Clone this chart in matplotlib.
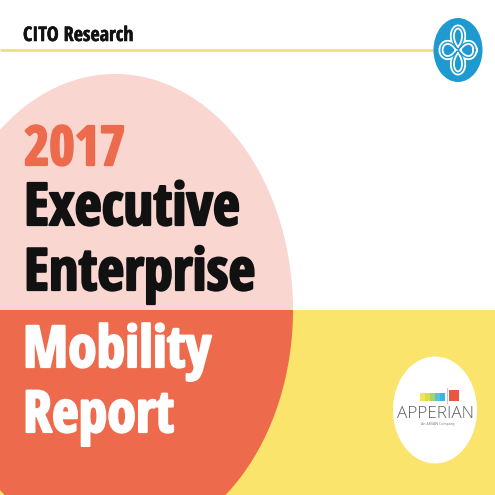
import matplotlib
matplotlib.use('Agg')
import matplotlib.pyplot as plt
import matplotlib.patheffects as pe
from matplotlib import font_manager as fm
from matplotlib.patches import Ellipse, Rectangle
import numpy as np

# cover text
header = 'CITO Research'
title_lines = ['2017', 'Executive', 'Enterprise', 'Mobility', 'Report']
title_colors = ['#EE6A4C', '#111111', '#111111', '#FFFFFF', '#FFFFFF']
# left x, baseline y, target width (px)
title_x = [24, 24, 24, 23, 23]
title_base = [165, 225, 290, 367, 432]
title_width = [101, 216, 231, 188, 151]

sponsor = 'APPERIAN'
sponsor_sub = 'An ARXAN Company'
bar_colors = ['#F3E45B', '#D8DE4E', '#A9D26A', '#5CC0DB', '#3AB3E6']

PINK = '#F9D6D0'
ORANGE = '#EE6A4C'
YELLOW = '#FBE46C'
BLUE = '#1E9AD0'


def condensed_family():
    wanted = ['Open Sans Condensed', 'Roboto Condensed', 'Liberation Sans Narrow',
              'DejaVu Sans Condensed', 'Noto Sans Condensed']
    names = {f.name for f in fm.fontManager.ttflist}
    for w in wanted:
        if w in names:
            return w, 'normal'
    for f in fm.fontManager.ttflist:
        if 'condensed' in str(f.stretch) and f.name in ('DejaVu Sans', 'Open Sans', 'Noto Sans', 'Roboto'):
            return f.name, 'condensed'
    return 'Open Sans', 'normal'


fam, stretch = condensed_family()

fig = plt.figure(figsize=(4.95, 4.95), dpi=100)
ax = fig.add_axes([0, 0, 1, 1])
ax.set_xlim(0, 495)
ax.set_ylim(495, 0)
ax.axis('off')
fig.patch.set_facecolor('white')

# yellow lower band
ax.add_patch(Rectangle((0, 310), 495, 185, color=YELLOW, lw=0, zorder=1))

# big ellipse, pink on top and orange below the band edge
top_clip = Rectangle((-100, -100), 700, 410, transform=ax.transData)
bot_clip = Rectangle((-100, 310), 700, 300, transform=ax.transData)
e1 = Ellipse((115, 310), 356, 472, color=PINK, lw=0, zorder=2)
e2 = Ellipse((115, 310), 356, 472, color=ORANGE, lw=0, zorder=2)
ax.add_patch(e1)
ax.add_patch(e2)
e1.set_clip_path(top_clip)
e2.set_clip_path(bot_clip)

# header line and logo
ax.plot([0, 436], [50, 50], color='#F0DC6C', lw=1.8, zorder=3, solid_capstyle='butt')
ax.add_patch(Ellipse((458, 50), 49, 64, color=BLUE, lw=0, zorder=4))
th = np.linspace(0, 2 * np.pi, 400)
r = np.abs(np.cos(2 * th)) ** 0.6
kx = 458 + 17 * r * np.cos(th)
ky = 50 + 23 * r * np.sin(th)
ax.plot(kx, ky, color='white', lw=3.6, zorder=5)
ax.plot(kx, ky, color=BLUE, lw=1.0, zorder=6)

fig.canvas.draw()
renderer = fig.canvas.get_renderer()


def fitted_text(s, x, y, width, color, base_size, weight='bold', family=fam, st=stretch, stroke=0, **kw):
    t = ax.text(x, y, s, color=color, fontsize=base_size, fontweight=weight,
                family=family, fontstretch=st, ha='left', va='baseline', zorder=8, **kw)
    w = t.get_window_extent(renderer).width
    t.set_fontsize(base_size * width / w)
    if stroke:
        t.set_path_effects([pe.withStroke(linewidth=stroke, foreground=color)])
    return t


fitted_text(header, 23, 41, 110, '#111111', 13, stroke=0.4)
for s, c, x, y, w in zip(title_lines, title_colors, title_x, title_base, title_width):
    fitted_text(s, x, y, w, c, 40, stroke=1.6)

# sponsor badge
ax.add_patch(Ellipse((435, 410), 84, 107, color='white', lw=0, zorder=4))
bx = 420
for c in bar_colors:
    ax.add_patch(Rectangle((bx, 393), 5, 8, color=c, lw=0, zorder=5))
    bx += 5
ax.plot([447, 447], [388, 403], color='#BBBBBB', lw=0.6, zorder=5)
ax.add_patch(Rectangle((449, 390), 10, 11, color='#E8573F', lw=0, zorder=5))
t = ax.text(435.5, 418, sponsor, color='#5F6062', fontsize=8, family='Open Sans',
            fontweight='light', ha='center', va='baseline', zorder=6)
w = t.get_window_extent(renderer).width
t.set_fontsize(8 * 77 / w)
ax.text(438, 425, sponsor_sub, color='#7A7A7A', fontsize=2.6, family='Open Sans',
        ha='center', va='baseline', zorder=6)

fig.savefig('out.png', dpi=100, facecolor='white')
